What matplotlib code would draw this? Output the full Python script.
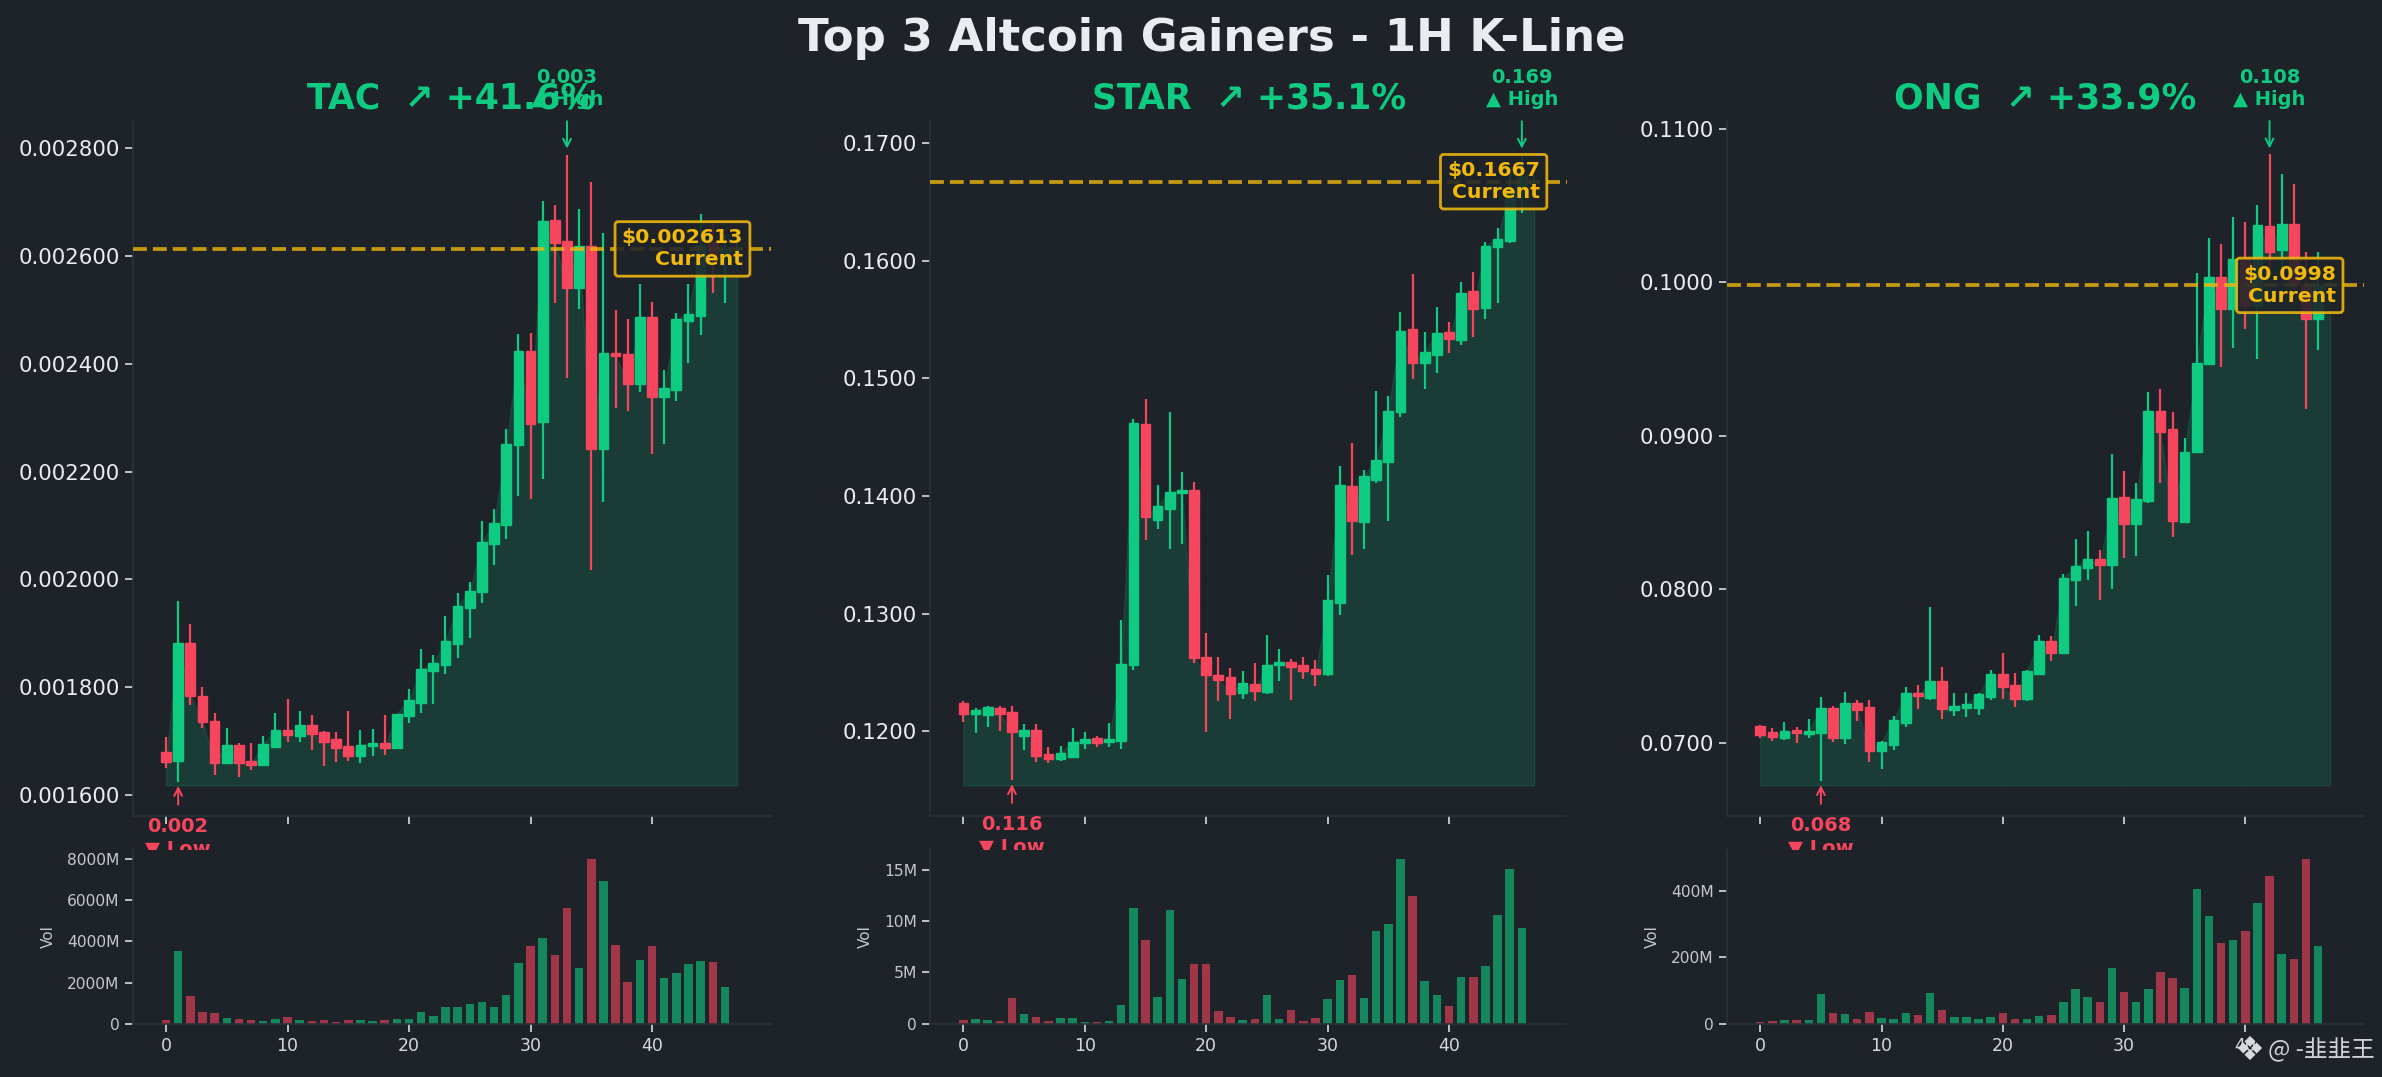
import numpy as np
import matplotlib
matplotlib.use("Agg")
import matplotlib.pyplot as plt

W, H = 2382, 1077
BG, GREEN, RED, YEL = "#1E2329", "#0ECB81", "#F6465D", "#F0B90B"
SPINE, TXT, SUB = "#2B3139", "#EAECEF", "#C4C8CE"

# ---- TAC (prices in 1e-6, volume in millions)
tac_open = [1680,1663,1882,1784,1738,1660,1693,1663,1656,1689,1721,1710,1730,1716,1703,1691,1672,1691,1697,1688,1746.5,1770,1830,1841,1881,1947,1977,2065,2100,2249.5,2423.5,2291.6,2667.5,2628.5,2541,2618,2241.5,2420,2418.6,2362,2487,2338,2351,2479,2489,2625,2600,2613]
tac_high = [1708,1960,1918,1801,1753,1725,1696,1696,1710,1753,1778.5,1756,1748.5,1719,1716,1756,1721,1723,1748.5,1751,1797,1871,1859,1932,1975,1995,2108,2130,2279,2456,2457.6,2701,2695,2788,2686.7,2738,2642,2500,2483.6,2547,2515,2389,2495,2548.6,2677,2660,2640,2625]
tac_low = [1650,1624.5,1766,1725,1637,1660,1633,1646,1656,1689,1698,1698,1684,1654,1661,1663,1659,1672,1674,1688,1733.5,1752,1769,1824,1854,1891,1956,2026,2074,2154,2148.6,2186,2513,2373,2501.5,2018,2143,2317.6,2312,2347,2233,2251,2331,2401,2453,2532,2513,2605]
tac_close = [1662,1882,1784,1736,1660,1693,1660,1656,1695.4,1721,1711,1730,1713,1699,1688,1672,1693,1697,1688,1750.6,1776.5,1834,1845,1886,1951,1978,2069.5,2104,2251,2423.5,2288.5,2665.6,2624,2541,2618.6,2241.5,2420,2414,2362,2487,2338,2355.4,2483.6,2493,2620,2600,2613,2613]
tac_vol = [180,3520,1340,570,520,270,230,180,125,215,320,180,125,180,70,180,180,125,180,230,230,570,375,800,800,950,1055,800,1390,2950,3770,4160,3340,5610,2700,7985,6930,3820,2020,3090,3770,2215,2465,2890,3035,3000,1785,0]

# ---- STAR (prices in 1e-3, volume in millions)
star_open = [122.4,121.46,121.37,121.96,121.65,119.6,120.12,118.07,117.63,117.82,119.0,119.44,119.1,119.16,125.64,146.15,137.97,138.9,140.25,140.54,126.29,124.77,124.61,123.24,124.05,123.3,125.61,125.92,125.67,125.26,124.83,130.87,140.88,137.82,141.36,142.89,147.14,154.22,151.33,151.98,153.97,153.26,157.45,155.98,161.16,161.67,166.0,166.67]
star_high = [122.55,121.96,122.15,122.15,122.15,120.65,120.65,118.66,118.75,120.28,119.94,119.6,120.72,129.44,146.57,148.2,140.96,147.17,142.07,141.22,128.32,126.29,125.36,125.1,125.79,128.16,126.98,126.17,126.29,126.04,133.24,142.58,144.53,142.24,148.95,148.53,155.67,158.9,153.97,156.09,154.82,158.2,159.07,161.6,162.8,167.7,169.0,167.2]
star_low = [120.78,119.84,120.34,120.0,115.86,118.41,117.38,117.29,117.48,117.82,118.47,118.66,118.66,118.47,125.2,136.26,137.2,135.5,135.92,125.83,119.94,122.55,121.03,122.71,122.59,123.15,124.24,122.62,124.42,123.83,124.67,129.9,135.0,135.5,141.1,137.88,146.71,149.94,149.1,150.45,152.15,152.83,153.5,155.0,156.4,161.5,164.0,166.2]
star_close = [121.46,121.78,122.06,121.46,119.97,120.12,117.91,117.63,118.16,119.1,119.35,119.0,119.35,125.7,146.2,138.2,139.18,140.34,140.54,126.23,124.77,124.39,123.15,124.14,123.43,125.61,125.86,125.45,125.08,124.86,131.12,140.96,137.91,141.73,143.09,147.25,154.05,151.33,152.27,153.88,153.34,157.28,155.89,161.27,161.87,166.0,167.2,166.67]
star_vol = [.36,.47,.36,.25,2.51,.93,.65,.25,.54,.54,.14,.14,.25,1.83,11.27,8.14,2.58,11.09,4.34,5.81,5.81,1.22,.65,.36,.47,2.8,.47,1.33,.25,.54,2.4,4.27,4.74,2.51,9.04,9.72,16.04,12.45,4.16,2.8,1.72,4.56,4.56,5.63,10.58,15.07,9.33,0]

# ---- ONG (prices in 1e-3, volume in millions)
ong_open = [71.08,70.7,70.34,70.82,70.6,70.67,72.28,70.34,72.57,72.31,69.5,69.88,71.32,73.25,72.93,74.01,72.12,72.28,72.28,73.0,74.47,73.75,72.88,74.5,76.63,75.87,80.6,81.37,82.0,81.59,86.01,84.25,85.73,91.6,90.43,84.38,88.92,94.66,100.33,98.29,101.5,98.45,103.69,102.08,103.77,99.8,97.64,99.8]
ong_high = [71.15,70.94,71.39,71.01,71.54,72.98,72.38,73.29,72.81,72.81,70.1,71.73,73.63,73.75,78.85,74.93,73.25,73.25,73.25,74.74,75.84,74.54,74.72,77.02,76.95,81.0,83.25,83.82,82.57,88.81,87.7,86.92,92.84,93.04,91.54,89.85,100.59,102.86,102.47,104.23,103.95,105.03,108.33,107.03,106.38,102.0,101.95,100.1]
ong_low = [70.29,70.14,70.22,70.02,70.34,67.52,70.07,69.95,71.44,68.77,68.32,69.57,71.06,72.24,72.81,71.59,71.78,71.71,71.85,72.81,72.88,72.36,72.76,74.45,75.31,75.82,78.89,80.6,79.3,80.0,82.04,82.16,85.6,86.96,83.41,84.32,88.87,94.66,94.51,95.7,96.94,94.99,100.5,100.9,99.3,91.78,95.62,99.5]
ong_close = [70.53,70.36,70.79,70.63,70.79,72.26,70.34,72.57,72.16,69.5,70.05,71.47,73.22,73.03,74.01,72.19,72.43,72.52,73.17,74.47,73.61,72.88,74.69,76.63,75.87,80.75,81.54,82.0,81.59,85.94,84.25,85.88,91.6,90.28,84.47,88.98,94.77,100.33,98.29,101.5,98.45,103.73,102.0,103.77,99.8,97.64,99.8,99.8]
ong_vol = [4,8,11,11,11,90,32,29,14,35,17,14,32,25,92,41,20,20,14,20,32,14,14,23,25,65,104,80,65,167,95,65,104,155,137,107,406,325,243,252,279,363,444,209,195,495,234,0]

symbols = ["TAC", "STAR", "ONG"]
changes = ["+41.6%", "+35.1%", "+33.9%"]
currents = [0.002613, 0.1667, 0.0998]
price_fmt = ["{:.6f}", "{:.4f}", "{:.4f}"]
floors = [0.0016177, 0.11539, 0.06724]
ylims = [(0.001561, 0.002849), (0.1128, 0.1718), (0.06524, 0.11046)]
yticks = [[0.0016,0.0018,0.0020,0.0022,0.0024,0.0026,0.0028],
          [0.12,0.13,0.14,0.15,0.16,0.17],
          [0.07,0.08,0.09,0.10,0.11]]
vticks = [[0,2000,4000,6000,8000],[0,5,10,15],[0,200,400]]
panels_px = [(132.6,770.5),(930.0,1567.4),(1726.9,2363.5)]
series = [(tac_open,tac_high,tac_low,tac_close,tac_vol,1e-6),
          (star_open,star_high,star_low,star_close,star_vol,1e-3),
          (ong_open,ong_high,ong_low,ong_close,ong_vol,1e-3)]

TOP, BOT, VTOP, VBOT = 121.7, 816.0, 850.4, 1023.7

fig = plt.figure(figsize=(W/100, H/100), dpi=100, facecolor=BG)

def style(ax):
    ax.set_facecolor(BG)
    for s in ("top","right"):
        ax.spines[s].set_visible(False)
    for s in ("left","bottom"):
        ax.spines[s].set_color(SPINE)
        ax.spines[s].set_linewidth(1.2)
    ax.set_axisbelow(True)
    ax.grid(True, color=SPINE, ls=":", lw=0.6, alpha=0.35)

for k in range(3):
    o,h,l,c,v,sc = series[k]
    o,h,l,c = [np.array(a)*sc for a in (o,h,l,c)]
    v = np.array(v)
    x = np.arange(len(o))
    L,R = panels_px[k]
    ax = fig.add_axes([L/W, 1-BOT/H, (R-L)/W, (BOT-TOP)/H])
    vx = fig.add_axes([L/W, 1-VBOT/H, (R-L)/W, (VBOT-VTOP)/H])
    style(ax); style(vx)
    cols = [GREEN if ci >= oi else RED for oi,ci in zip(o,c)]

    ax.fill_between(x, c, floors[k], color=GREEN, alpha=0.15, zorder=1)
    ax.vlines(x, l, h, colors=cols, lw=1.6, zorder=2)
    ax.bar(x, np.abs(c-o), bottom=np.minimum(o,c), width=0.8, color=cols, edgecolor=cols, lw=1.0, zorder=3)
    ax.axhline(currents[k], color=YEL, ls="--", lw=2.7, alpha=0.8, zorder=4)

    ax.set_xlim(-2.75, 49.75)
    ax.set_ylim(*ylims[k])
    ax.set_yticks(yticks[k])
    ax.set_yticklabels([price_fmt[k].format(t) for t in yticks[k]])
    ax.set_xticks([0,10,20,30,40])
    ax.tick_params(axis="x", labelbottom=False, colors=TXT, length=5.8, width=1.1)
    ax.tick_params(axis="y", colors=TXT, labelsize=15.3, length=5.8, width=1.1)
    ax.set_title(f"{symbols[k]}  \u2197 {changes[k]}", color=GREEN, fontsize=25, fontweight="bold", pad=9.5)

    ih, il = int(np.argmax(h)), int(np.argmin(l))
    ax.annotate(f"{h[ih]:.3f}\n\u25B2 High", xy=(ih, h[ih]), xytext=(0, 33), textcoords="offset points",
                ha="center", va="bottom", color=GREEN, fontsize=14, fontweight="bold", zorder=6,
                arrowprops=dict(arrowstyle="->", color=GREEN, lw=1.4, shrinkA=7, shrinkB=4.3))
    ax.annotate(f"{l[il]:.3f}\n\u25BC Low", xy=(il, l[il]), xytext=(0, -25.5), textcoords="offset points",
                ha="center", va="top", color=RED, fontsize=14, fontweight="bold", zorder=6,
                arrowprops=dict(arrowstyle="->", color=RED, lw=1.4, shrinkA=7, shrinkB=3))
    ax.text(47.5, currents[k], "$"+price_fmt[k].format(currents[k])+"\nCurrent", ha="right", va="center",
            color=YEL, fontsize=14.7, fontweight="bold", zorder=7,
            bbox=dict(boxstyle="round,pad=0.33,rounding_size=0.15", facecolor=BG, edgecolor=YEL, alpha=0.88, lw=2))

    vx.bar(x, v, width=0.7, color=cols, alpha=0.6, zorder=2)
    vx.set_xlim(-2.75, 49.75)
    vx.set_ylim(0, v.max()*1.055)
    vx.set_xticks([0,10,20,30,40])
    vx.set_yticks(vticks[k])
    vx.set_yticklabels([("0" if t == 0 else f"{t}M") for t in vticks[k]])
    vx.tick_params(axis="x", colors=TXT, labelcolor="#D5D8DC", labelsize=12.5, length=5.8, width=1.1)
    vx.tick_params(axis="y", colors=TXT, labelcolor=SUB, labelsize=11.2, length=5.8, width=1.1)
    vx.set_ylabel("Vol", color=SUB, fontsize=11, labelpad=8)

fig.text(1212/W, 1-39/H, "Top 3 Altcoin Gainers - 1H K-Line", ha="center", va="center",
         color=TXT, fontsize=32.4, fontweight="bold")
wm_fam = ["Noto Sans CJK SC", "DejaVu Sans"]
fig.text(2249/W, 1-1050/H, "\u2756", ha="center", va="center", color="#D8DADD", fontsize=24, family=["DejaVu Sans"])
fig.text(2268/W, 1-1050/H, "@ -\u97ED\u97ED\u738B", ha="left", va="center", color="#D0D2D6", fontsize=17, family=wm_fam)

fig.savefig("out.png", dpi=100, facecolor=BG)
